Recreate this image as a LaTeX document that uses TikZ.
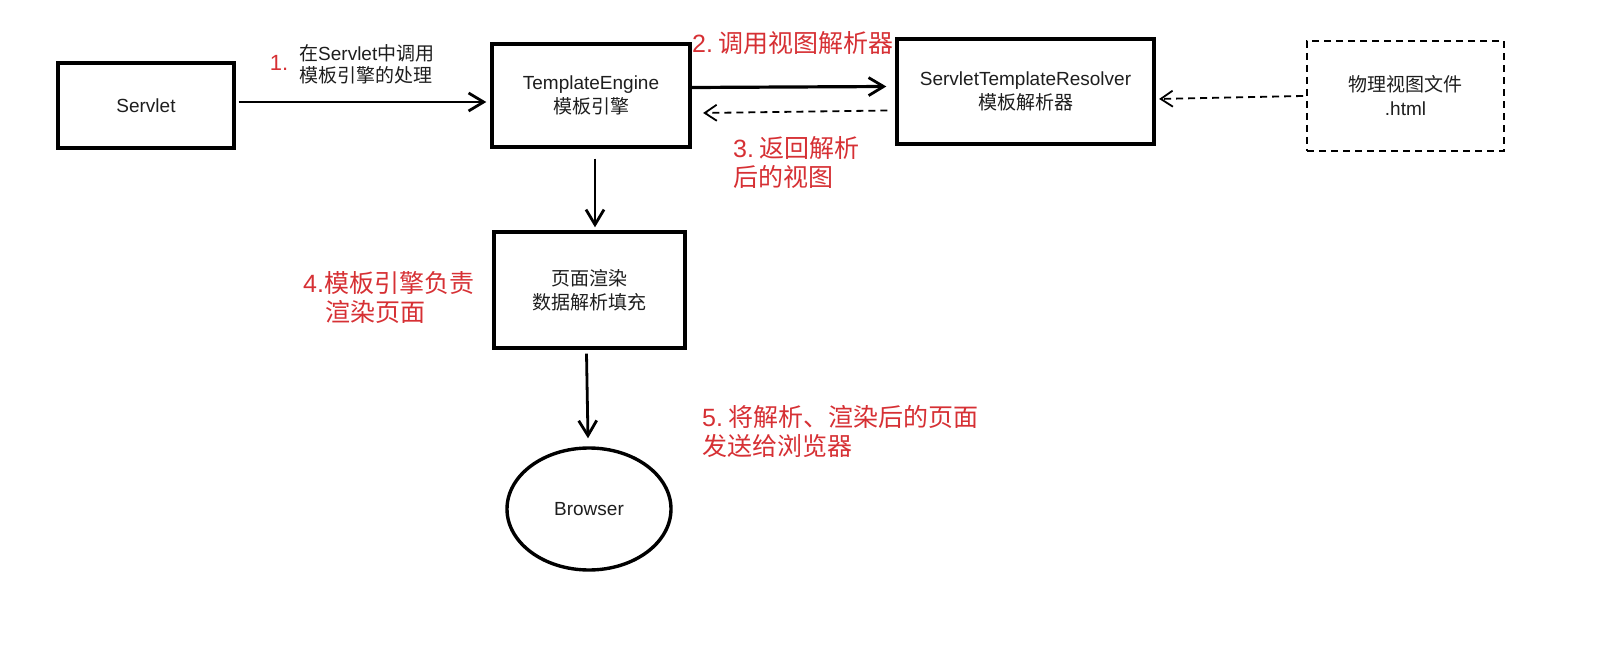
\documentclass[tikz,border=0pt]{standalone}
\usepackage{fontspec}
\setmainfont{Liberation Sans}
\newfontfamily\cjk{Noto Sans CJK SC}
\usetikzlibrary{arrows.meta,shapes.geometric}
\definecolor{lblred}{RGB}{214,48,52}
\definecolor{ink}{RGB}{30,30,30}
\newcommand\ntxt{\fontsize{19}{24}\selectfont}
\newcommand\ntxtb{\fontsize{19}{22}\selectfont}
\newcommand\rtxt{\fontsize{25}{29}\selectfont}
\begin{document}
\begin{tikzpicture}[x=1pt,y=-1pt,
  box/.style={draw=black,line width=3.4pt,inner sep=0pt,align=center,font=\ntxt,text=ink},
  dbox/.style={draw=black,line width=1.9pt,dash pattern=on 7pt off 5pt,inner sep=0pt,align=center,font=\ntxt,text=ink},
  redlbl/.style={anchor=west,inner sep=0pt,align=left,font=\rtxt,text=lblred},
  blklbl/.style={anchor=west,inner sep=0pt,align=left,font=\ntxtb,text=ink},
  arr/.style={draw=black,line width=2.8pt,-{Straight Barb[length=15pt,width=18pt,line width=2.8pt]}},
  darr/.style={draw=black,line width=1.8pt,dash pattern=on 7pt off 5pt,-{Straight Barb[length=12pt,width=16pt,line width=1.8pt,sep]}}]
\useasboundingbox (0,0) rectangle (1598,652);
% boxes
\node[box,minimum width=176pt,minimum height=85pt] (servlet) at (146,105.5) {Servlet};
\node[box,minimum width=198pt,minimum height=103pt] (engine) at (591,95.5) {TemplateEngine\\{\cjk 模板引擎}};
\node[box,minimum width=257pt,minimum height=105pt] (resolver) at (1025.5,91.5) {ServletTemplateResolver\\{\cjk 模板解析器}};
\node[dbox,minimum width=197pt,minimum height=110pt] (html) at (1405.5,96) {{\cjk 物理视图文件}\\.html};
\node[box,minimum width=191pt,minimum height=116pt] (render) at (589.5,290) {{\cjk 页面渲染}\\{\cjk 数据解析填充}};
\node[box,ellipse,minimum width=164pt,minimum height=122pt] (browser) at (589,509) {Browser};
% labels
\node[anchor=center,inner sep=0pt,font=\fontsize{22}{24}\selectfont,text=lblred] (n1) at (279,63) {1.};
\node[blklbl] (l1) at (299,64) {{\cjk 在}Servlet{\cjk 中调用}\\{\cjk 模板引擎的处理}};
\node[redlbl] (l2) at (692,43) {2.\hspace{5pt}{\cjk 调用视图解析器}};
\node[redlbl] (l3) at (733,162.5) {3.\hspace{5pt}{\cjk 返回解析}\\{\cjk 后的视图}};
\node[redlbl] (l4) at (303,297.5) {4.{\cjk 模板引擎负责}\\\hspace*{22pt}{\cjk 渲染页面}};
\node[redlbl] (l5) at (702,431.5) {5.\hspace{5pt}{\cjk 将解析、渲染后的页面}\\{\cjk 发送给浏览器}};
% connectors
\draw[arr] ([shift={(3,-3.5)}]servlet.east) -- ([shift={(-4,6.5)}]engine.west);
\draw[arr,line width=3.2pt] ([shift={(0,-8)}]engine.east) -- ([shift={(-9,-5)}]resolver.west);
\draw[darr] ([shift={(-8,19)}]resolver.west) -- ([shift={(10,17.5)}]engine.east);
\draw[darr] ([shift={(-3,0)}]html.west) -- ([shift={(2,7.5)}]resolver.east);
\draw[arr] ([shift={(4,10)}]engine.south) -- ([shift={(5.5,-3)}]render.north);
\draw[arr] ([shift={(-3,4)}]render.south) -- ([shift={(-1,-8)}]browser.north);
\end{tikzpicture}
\end{document}
